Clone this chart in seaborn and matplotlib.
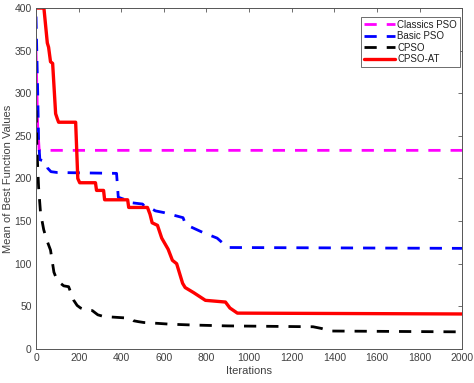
import matplotlib
matplotlib.use("Agg")
import matplotlib.pyplot as plt
import pandas as pd
import seaborn as sns

# Data
iters_classic = [0, 8, 15, 2000]
vals_classic = [350, 260, 233, 233]

iters_basic = [0, 8, 12, 18, 45, 55, 70, 100, 378, 386, 420, 432, 500, 510, 540, 560, 600, 690, 702, 780, 850, 900, 2000]
vals_basic = [390, 300, 245, 222, 220, 212, 208, 207, 206, 178, 175, 172, 170, 167, 165, 162, 160, 154, 146, 137, 130, 119, 118]

iters_cpso = [0, 5, 12, 21, 36, 50, 68, 84, 100, 130, 153, 165, 177, 193, 209, 240, 264, 290, 318, 443, 459, 480, 506, 570, 630, 740, 900, 1300, 1340, 1380, 2000]
vals_cpso = [280, 230, 190, 160, 140, 128, 116, 90, 80, 74, 73, 65, 57, 51, 48, 45, 45, 40, 38, 36, 33, 32, 31, 30, 29, 28, 27, 26, 24, 21, 20]

iters_at = [0, 37, 53, 59, 68, 78, 92, 100, 106, 186, 196, 205, 279, 284, 317, 322, 430, 435, 523, 535, 545, 570, 590, 620, 640, 660, 688, 700, 740, 795, 889, 910, 945, 2000]
vals_at = [400, 400, 359, 354, 337, 335, 276, 270, 266, 266, 200, 195, 195, 186, 186, 175, 175, 166, 166, 158, 148, 145, 130, 117, 104, 100, 77, 72, 66, 57, 55, 48, 42, 41]

series = [
    ("Classics PSO", iters_classic, vals_classic, "#ff00ff", (4.4, 3.6)),
    ("Basic PSO", iters_basic, vals_basic, "#0000ff", (4.4, 3.6)),
    ("CPSO", iters_cpso, vals_cpso, "#000000", (4.4, 3.6)),
    ("CPSO-AT", iters_at, vals_at, "#ff0000", None),
]

sns.set_style("white")
plt.rcParams["font.family"] = ["Liberation Sans", "DejaVu Sans"]
text_col = "#404040"

fig, ax = plt.subplots(figsize=(4.74, 3.83), dpi=100)
fig.subplots_adjust(left=0.076, right=0.975, bottom=0.089, top=0.979)

for name, xs, ys, col, dash in series:
    df = pd.DataFrame({"x": xs, "y": ys})
    line_kw = {"linewidth": 2.4} if dash is None else {"linewidth": 2.0, "dashes": dash}
    sns.lineplot(data=df, x="x", y="y", estimator=None, sort=False, color=col,
                 label=name, ax=ax, **line_kw)

ax.set_xlim(0, 2000)
ax.set_ylim(0, 400)
ax.set_xticks(range(0, 2001, 200))
ax.set_yticks(range(0, 401, 50))
ax.tick_params(direction="in", top=True, right=True, length=3, width=0.6,
               labelsize=7.5, colors="#555555", labelcolor=text_col, pad=3)
for sp in ax.spines.values():
    sp.set_color("#555555")
    sp.set_linewidth(0.7)

ax.set_xlabel("Iterations", fontsize=8, color=text_col, labelpad=2)
ax.set_ylabel("Mean of Best Function Values", fontsize=8, color=text_col, labelpad=1)

leg = ax.legend(loc="upper right", bbox_to_anchor=(0.995, 0.974), borderaxespad=0,
                fontsize=7, fancybox=False, framealpha=1, edgecolor="#555555",
                handlelength=3.2, handletextpad=0.2, labelspacing=0.15, borderpad=0.3)
leg.get_frame().set_linewidth(0.6)
for t in leg.get_texts():
    t.set_color("#202020")

fig.savefig("out.png", dpi=100)
